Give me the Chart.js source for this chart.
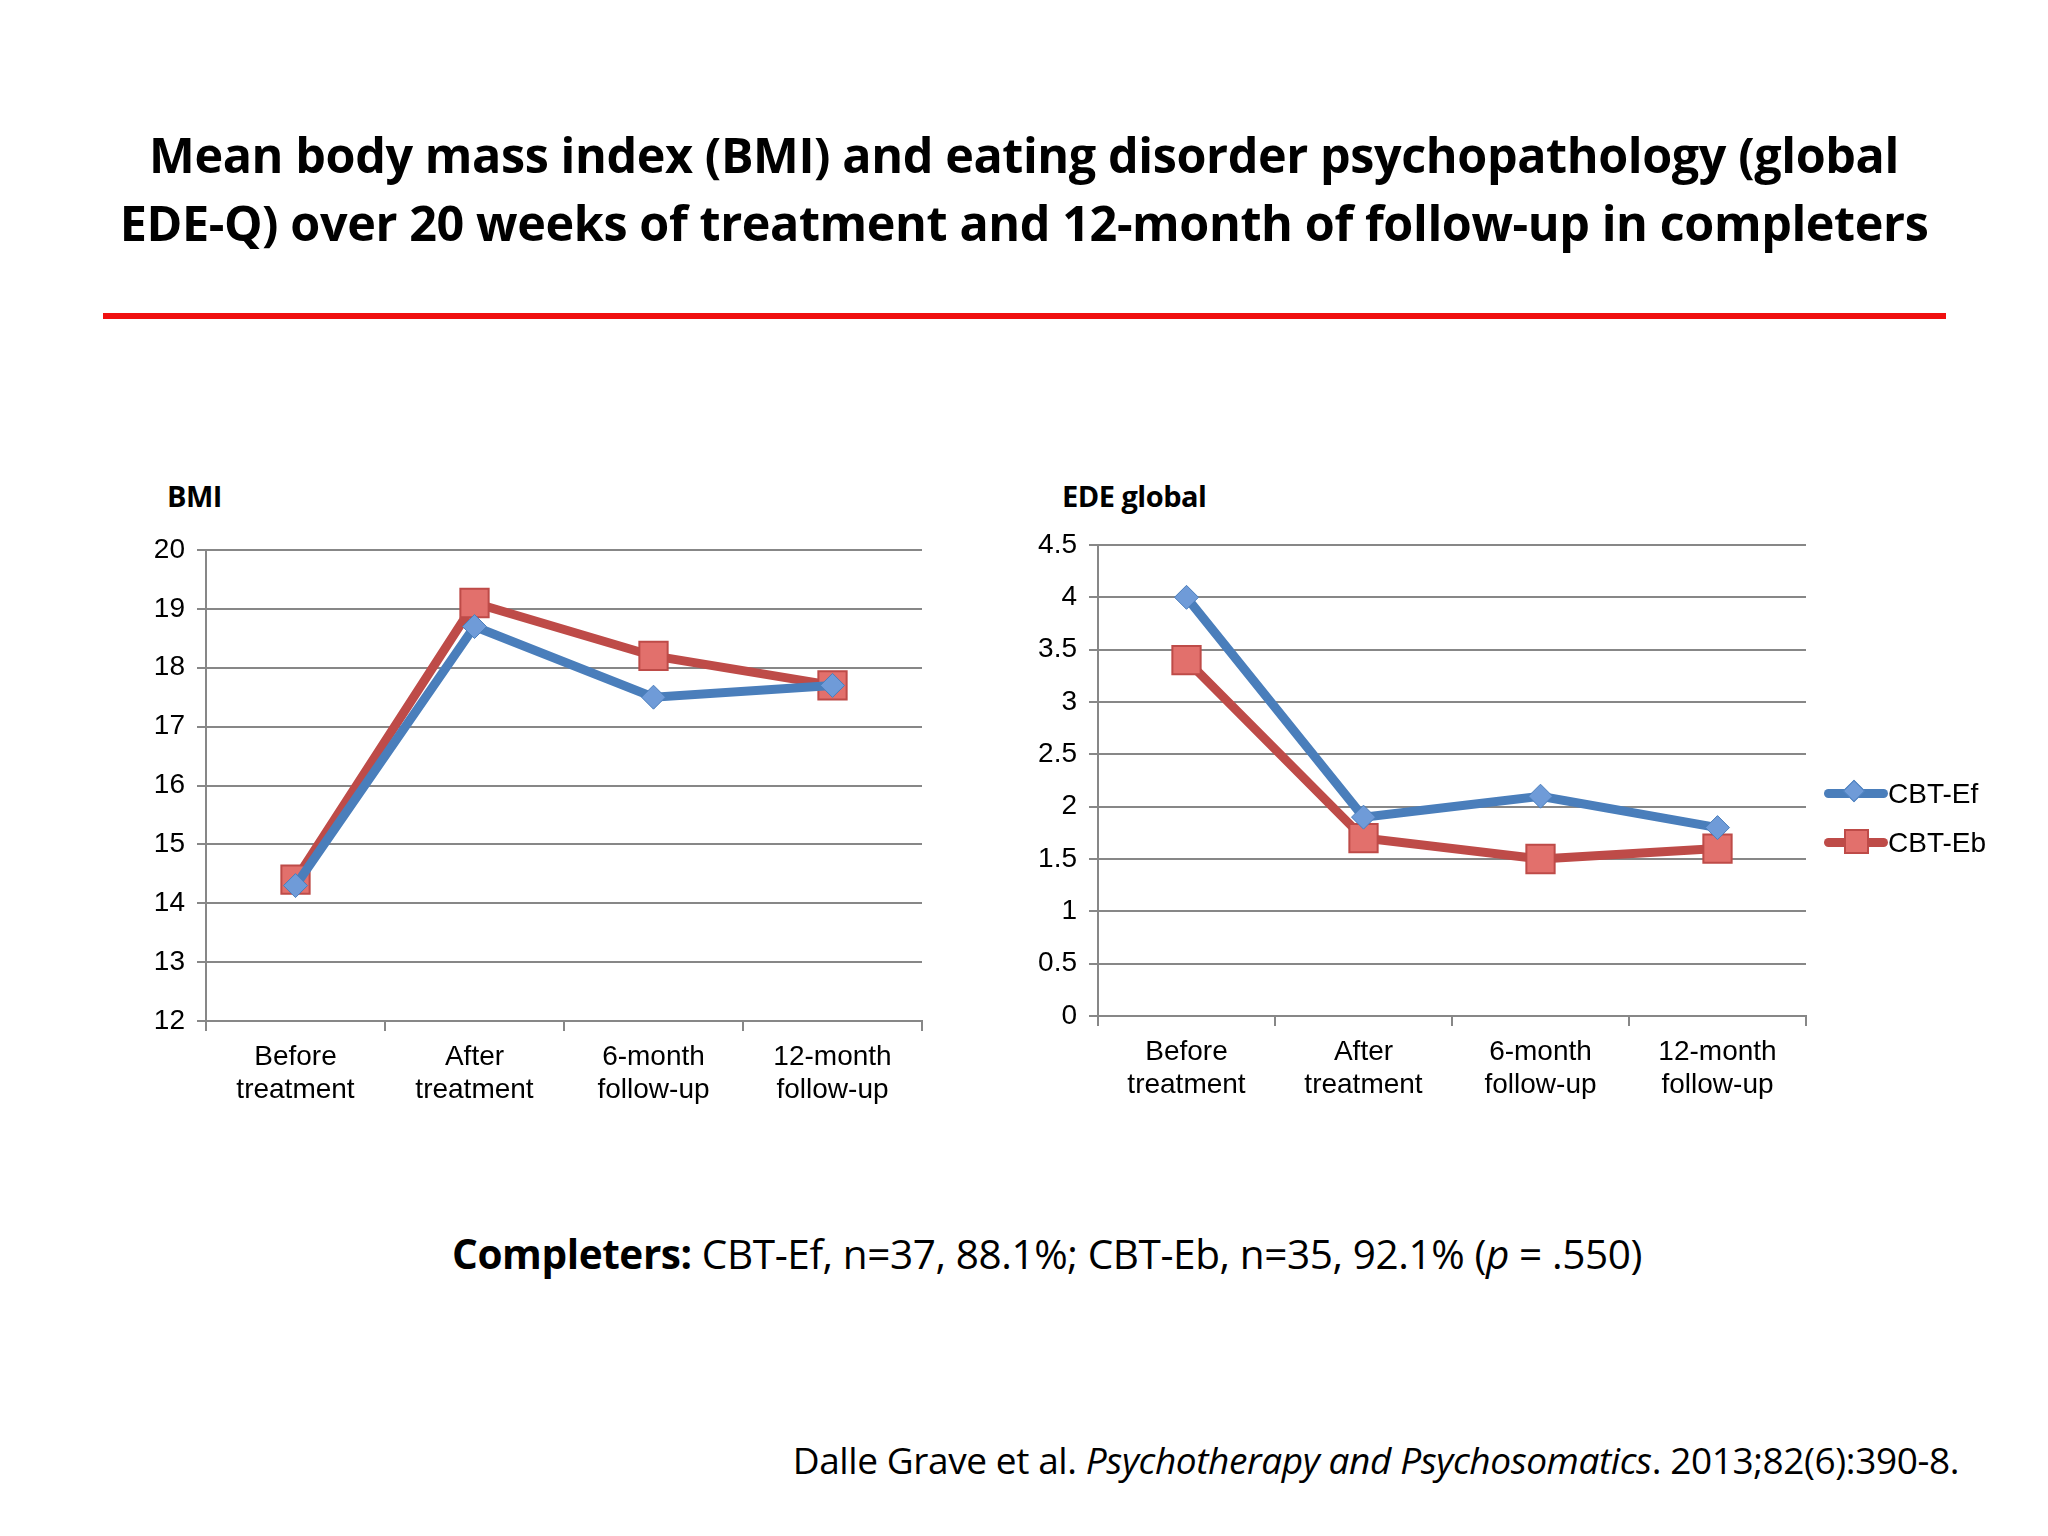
<!DOCTYPE html>
<html>
<head>
<meta charset="utf-8">
<script src="https://cdn.jsdelivr.net/npm/chart.js@4/dist/chart.umd.min.js"></script>
<style>
  body { margin: 0; background: #fff; }
  #page { position: relative; width: 2048px; height: 1536px; overflow: hidden; background: #fff; font-family: "Open Sans", "Noto Sans", sans-serif; color: #000; }
  .abs { position: absolute; }
  #title { left: 0; top: 120px; width: 2048px; text-align: center; font-weight: bold; font-size: 48.5px; line-height: 68px; letter-spacing: -0.4px; }
  #rule { left: 103px; top: 313px; width: 1843px; height: 6px; background: #f01010; }
  .axt { font-weight: bold; font-size: 29px; line-height: 40px; top: 476px; letter-spacing: -0.5px; }
  #c1 { left: 100px; top: 500px; }
  #c2 { left: 1000px; top: 500px; }
  #legend { left: 1824px; top: 769px; font-family: "Liberation Sans", Arial, sans-serif; font-size: 28px; }
  .lg { position: relative; height: 49px; display: flex; align-items: center; }
  .bar { width: 64px; height: 9px; border-radius: 5px; position: relative; }
  .mk { position: absolute; }
  #completers { left: 0; width: 2094px; text-align: center; top: 1229px; font-size: 40.5px; line-height: 50px; letter-spacing: -0.4px; }
  #cite { right: 89px; top: 1436px; font-size: 37px; line-height: 48px; letter-spacing: -0.4px; }
</style>
</head>
<body>
<div id="page">
  <div id="title" class="abs">Mean body mass index (BMI) and eating disorder psychopathology (global<br>EDE-Q) over 20 weeks of treatment and 12-month of follow-up in completers</div>
  <div id="rule" class="abs"></div>
  <div class="abs axt" style="left:167px">BMI</div>
  <div class="abs axt" style="left:1062px">EDE global</div>
  <canvas id="c1" class="abs" width="900" height="620"></canvas>
  <canvas id="c2" class="abs" width="1048" height="620"></canvas>
  <div id="legend" class="abs">
    <div class="lg"><div class="bar" style="background:#4a7ebb"><div class="mk" style="left:22px;top:-6px;width:16px;height:16px;background:#6f9bd8;border:1px solid #4a7ebb;transform:rotate(45deg);box-sizing:border-box"></div></div><span>CBT-Ef</span></div>
    <div class="lg"><div class="bar" style="background:#be4b48"><div class="mk" style="left:20px;top:-9px;width:25px;height:25px;background:#e2706c;border:2px solid #be4b48;box-sizing:border-box"></div></div><span>CBT-Eb</span></div>
  </div>
  <div id="completers" class="abs"><b>Completers:</b> CBT-Ef, n=37, 88.1%; CBT-Eb, n=35, 92.1% (<i>p</i> = .550)</div>
  <div id="cite" class="abs">Dalle Grave et al. <i>Psychotherapy and Psychosomatics</i>. 2013;82(6):390-8.</div>
</div>
<script>
const timepoints = [["Before", "treatment"], ["After", "treatment"], ["6-month", "follow-up"], ["12-month", "follow-up"]];
const seriesNames = ["CBT-Ef", "CBT-Eb"];
const bmiEf = [14.3, 18.7, 17.5, 17.7];
const bmiEb = [14.4, 19.1, 18.2, 17.7];
const edeEf = [4.0, 1.9, 2.1, 1.8];
const edeEb = [3.4, 1.7, 1.5, 1.6];
const bmiTicks = { min: 12, max: 20, step: 1 };
const edeTicks = { min: 0, max: 4.5, step: 0.5 };

const gridGrey = "#878787";
const tickFont = { family: "Liberation Sans, Arial, sans-serif", size: 28 };

function makeChart(id, ef, eb, range, yWidth, xHeight, pad) {
  new Chart(document.getElementById(id), {
    type: "line",
    data: {
      labels: timepoints,
      datasets: [
        {
          label: seriesNames[0], data: ef,
          borderColor: "#4a7ebb", borderWidth: 9, tension: 0,
          pointStyle: "rectRot", pointRadius: 12,
          pointBackgroundColor: "#6f9bd8", pointBorderColor: "#4a7ebb", pointBorderWidth: 1
        },
        {
          label: seriesNames[1], data: eb,
          borderColor: "#be4b48", borderWidth: 9, tension: 0,
          pointStyle: "rect", pointRadius: 20,
          pointBackgroundColor: "#e2706c", pointBorderColor: "#be4b48", pointBorderWidth: 2
        }
      ]
    },
    options: {
      responsive: false,
      animation: false,
      layout: { padding: pad },
      plugins: { legend: { display: false }, tooltip: { enabled: false } },
      scales: {
        x: {
          offset: true,
          grid: { offset: true, drawOnChartArea: false, color: gridGrey, lineWidth: 2, tickLength: 10 },
          border: { display: true, color: gridGrey, width: 2 },
          ticks: { color: "#000", font: tickFont, padding: 9, maxRotation: 0 },
          afterFit: s => { s.height = xHeight; }
        },
        y: {
          min: range.min, max: range.max,
          grid: { color: gridGrey, lineWidth: 2, tickLength: 9 },
          border: { display: true, color: gridGrey, width: 2 },
          ticks: { stepSize: range.step, color: "#000", font: tickFont, padding: 12,
                   callback: v => String(+v.toFixed(1)) },
          afterFit: s => { s.width = yWidth; }
        }
      }
    }
  });
}

makeChart("c1", bmiEf, bmiEb, bmiTicks, 106, 99, { top: 50, right: 78, bottom: 0, left: 0 });
makeChart("c2", edeEf, edeEb, edeTicks, 98, 104, { top: 45, right: 242, bottom: 0, left: 0 });
</script>
</body>
</html>
